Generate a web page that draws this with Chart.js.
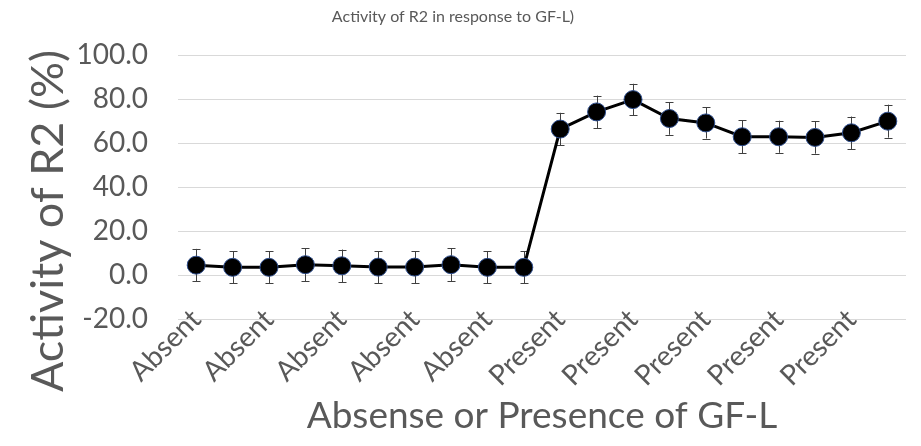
<!DOCTYPE html>
<html>
<head>
<meta charset="utf-8">
<script src="https://cdn.jsdelivr.net/npm/chart.js@4.4.1/dist/chart.umd.min.js"></script>
<style>
  html, body { margin: 0; padding: 0; background: #ffffff; }
  #wrap { width: 921px; height: 446px; position: relative; }
</style>
</head>
<body>
<div id="wrap"><canvas id="c"></canvas></div>
<script>
// ---- data ----
const categories = [
  "Absent","Absent","Absent","Absent","Absent","Absent","Absent","Absent","Absent","Absent",
  "Present","Present","Present","Present","Present","Present","Present","Present","Present","Present"
];
const activity = [4.5, 3.5, 3.5, 4.7, 4.2, 3.6, 3.6, 4.7, 3.5, 3.5,
                  66.4, 74.2, 79.8, 71.2, 69.2, 62.9, 62.9, 62.6, 64.7, 70.0];
const errors =   [7.4, 7.3, 7.3, 7.4, 7.4, 7.3, 7.3, 7.4, 7.3, 7.3,
                  7.4, 7.4, 7.2, 7.4, 7.1, 7.4, 7.3, 7.4, 7.4, 7.5];
const yTicks = [-20, 0, 20, 40, 60, 80, 100];
const chartTitle = "Activity of R2 in response to GF-L)";
const xTitle = "Absense or Presence of GF-L";
const yTitle = "Activity of R2 (%)";

const TEXT = "#595959";
const FONT = "Lato, 'Open Sans', sans-serif";

const errorBars = {
  id: "errorBars",
  beforeDatasetsDraw(chart) {
    const ctx = chart.ctx;
    const meta = chart.getDatasetMeta(0);
    const ys = chart.scales.y;
    ctx.save();
    ctx.strokeStyle = "#404040";
    ctx.lineWidth = 1;
    meta.data.forEach((pt, i) => {
      const x = Math.round(pt.x) + 0.5;
      const yTop = ys.getPixelForValue(activity[i] + errors[i]);
      const yBot = ys.getPixelForValue(activity[i] - errors[i]);
      ctx.beginPath();
      ctx.moveTo(x, yTop); ctx.lineTo(x, yBot);
      ctx.moveTo(x - 4, Math.round(yTop) + 0.5); ctx.lineTo(x + 4, Math.round(yTop) + 0.5);
      ctx.moveTo(x - 4, Math.round(yBot) + 0.5); ctx.lineTo(x + 4, Math.round(yBot) + 0.5);
      ctx.stroke();
    });
    ctx.restore();
  }
};

const yTitlePlugin = {
  id: "yTitlePlugin",
  afterDraw(chart) {
    const ctx = chart.ctx;
    ctx.save();
    ctx.translate(48, 221);
    ctx.rotate(-Math.PI / 2);
    ctx.fillStyle = TEXT;
    ctx.font = "45px " + FONT;
    ctx.textAlign = "center";
    ctx.textBaseline = "middle";
    ctx.fillText(yTitle, 0, 0);
    ctx.restore();
  }
};

new Chart(document.getElementById("c"), {
  type: "line",
  data: {
    labels: categories,
    datasets: [{
      label: "Activity",
      data: activity,
      borderColor: "#000000",
      borderWidth: 3,
      pointRadius: 9,
      pointHoverRadius: 9,
      pointBackgroundColor: "#000000",
      pointBorderColor: "#2F4F8F",
      pointBorderWidth: 1,
      tension: 0
    }]
  },
  options: {
    responsive: true,
    maintainAspectRatio: false,
    animation: false,
    layout: { padding: { left: 0, right: 15, top: 0, bottom: 8 } },
    plugins: {
      legend: { display: false },
      tooltip: { enabled: false },
      title: {
        display: true,
        text: chartTitle,
        color: TEXT,
        font: { family: FONT, size: 16, weight: "normal" },
        padding: { top: 7, bottom: 29 }
      }
    },
    scales: {
      x: {
        offset: true,
        afterFit(scale) {
          scale.height = 119;
          // let rotated labels rise slightly above the plot bottom, as in the reference
          scale._computeLabelArea = () => undefined;
        },
        grid: { display: false },
        border: { display: false },
        ticks: {
          autoSkip: false,
          maxRotation: 45,
          minRotation: 45,
          color: TEXT,
          padding: -24,
          font: { family: FONT, size: 28 },
          callback: function(v, i) { return i % 2 === 0 ? categories[i] : ""; }
        },
        title: {
          display: true,
          text: xTitle,
          color: TEXT,
          font: { family: FONT, size: 37 },
          padding: { top: 0, bottom: 0 }
        }
      },
      y: {
        min: -20,
        max: 100,
        afterBuildTicks(scale) { scale.ticks = yTicks.map(v => ({ value: v })); },
        afterFit(scale) { scale.width = 178; },
        grid: { color: "#D9D9D9", lineWidth: 1, drawTicks: false },
        border: { display: false },
        ticks: {
          color: TEXT,
          padding: 30,
          font: { family: FONT, size: 28 },
          callback: v => Number(v).toFixed(1)
        }
      }
    }
  },
  plugins: [errorBars, yTitlePlugin]
});
</script>
</body>
</html>
